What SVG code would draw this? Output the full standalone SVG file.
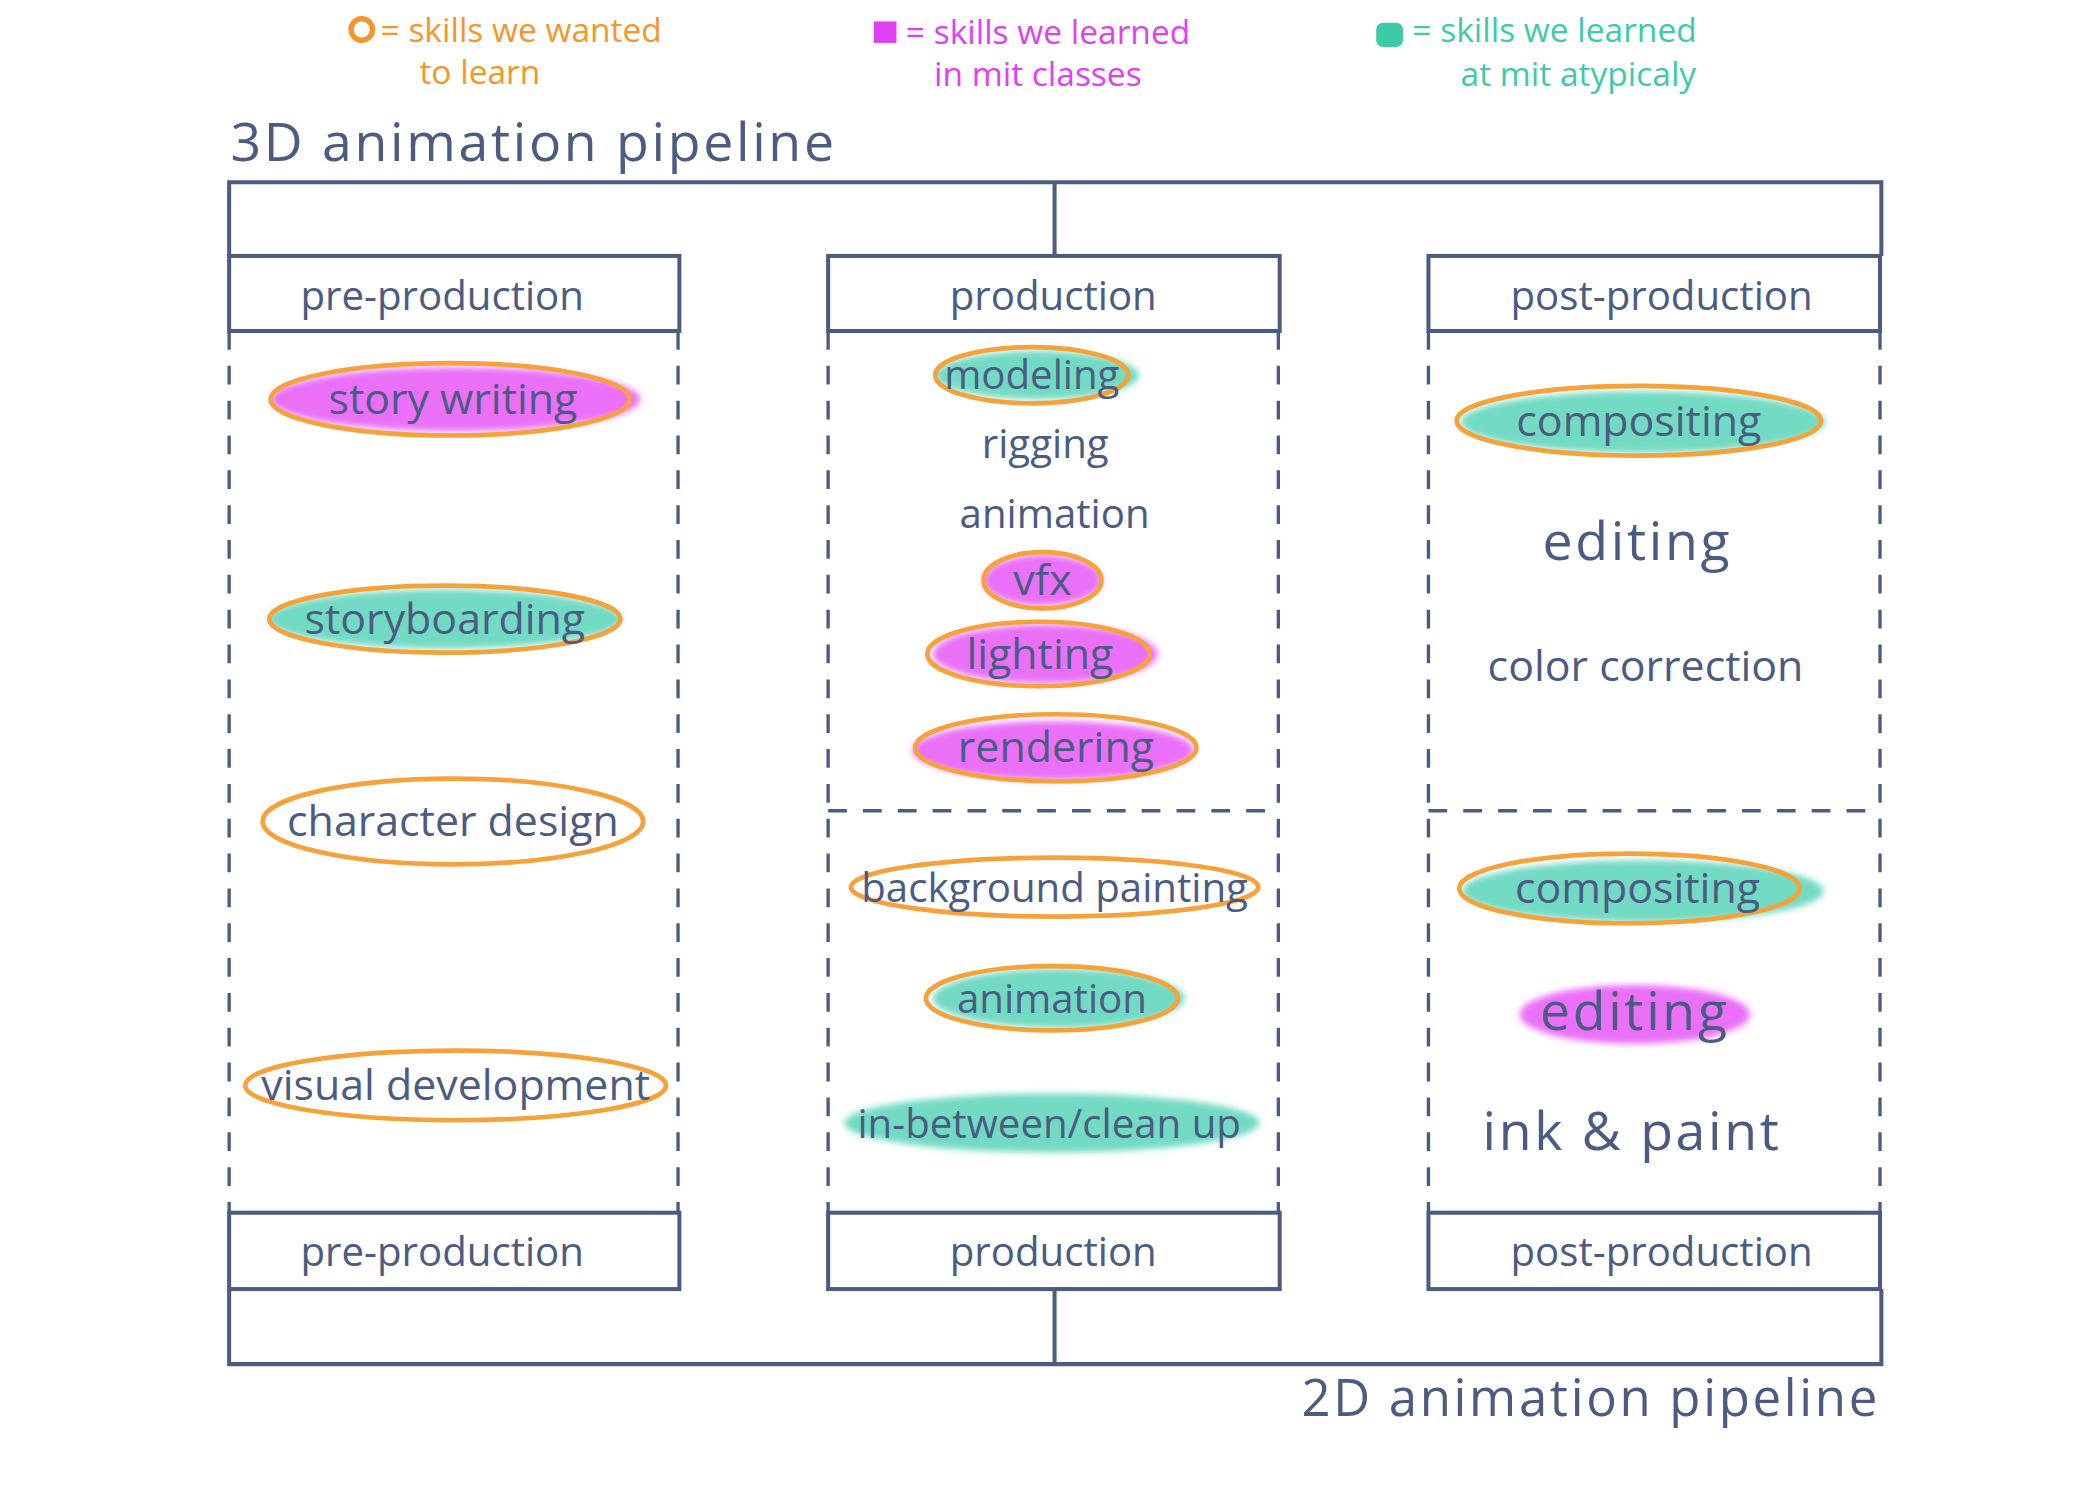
<svg xmlns="http://www.w3.org/2000/svg" width="2100" height="1500" viewBox="0 0 2100 1500">
<defs>
<filter id="fz" x="-20%" y="-40%" width="140%" height="180%"><feGaussianBlur stdDeviation="2.5"/></filter>
</defs>
<style>
.ln{stroke:#4b5b82;stroke-width:3;fill:none}
.box{stroke:#4b5b82;stroke-width:3;fill:#fff}
.ds{stroke:#4b5b82;stroke-width:2.5;fill:none;stroke-dasharray:14 12}
.t{font-family:"Open Sans","DejaVu Sans",sans-serif;fill:#4b5b82;text-anchor:middle}
.h{font-size:30px}
.s{font-size:32px}
.big{font-size:40px;letter-spacing:2px}
.o{fill:none;stroke:#f5a23a;stroke-width:3.5}
.m{fill:#ea6ff7;filter:url(#fz)}
.g{fill:#72d9c3;filter:url(#fz)}
.lo{font-family:"Open Sans","DejaVu Sans",sans-serif;font-size:25px;fill:#f5962a}
.lm{font-family:"Open Sans","DejaVu Sans",sans-serif;font-size:25px;fill:#e040f0}
.lg{font-family:"Open Sans","DejaVu Sans",sans-serif;font-size:25px;fill:#3ecaa8}
</style>
<g transform="scale(1.34,1.34)">
<g id="legend">
<circle cx="270" cy="22" r="8" fill="none" stroke="#f5962a" stroke-width="4"/>
<text class="lo" x="284" y="31">= skills we wanted</text>
<text class="lo" x="313" y="63">to learn</text>
<rect x="652" y="16" width="17" height="16" fill="#e040f0"/>
<text class="lm" x="676" y="33">= skills we learned</text>
<text class="lm" x="697" y="64">in mit classes</text>
<rect x="1027" y="17" width="20" height="18" rx="5" fill="#3ecaa8"/>
<text class="lg" x="1054" y="31">= skills we learned</text>
<text class="lg" x="1090" y="64">at mit atypicaly</text>
</g>
<text class="t" x="172" y="120" style="font-size:40px;text-anchor:start;letter-spacing:2px">3D animation pipeline</text>
<text class="t" x="1403" y="1057" style="font-size:38px;text-anchor:end;letter-spacing:2px">2D animation pipeline</text>
<g id="connectors">
<path class="ln" d="M171 191V136H1404V191M787 136V191"/>
<path class="ln" d="M171 962V1018H1404V962M787 962V1018"/>
<path class="ds" d="M171 247V905M506 247V905M618 247V905M954 247V905M1066 247V905M1403 247V905M618 605H954M1066 605H1403"/>
</g>
<g id="pre-top"><rect class="box" x="171" y="191" width="336" height="56"/><text class="t h" x="330" y="231">pre-production</text></g>
<g id="prod-top"><rect class="box" x="618" y="191" width="337" height="56"/><text class="t h" x="786" y="231">production</text></g>
<g id="post-top"><rect class="box" x="1066" y="191" width="337" height="56"/><text class="t h" x="1240" y="231">post-production</text></g>
<g id="pre-bot"><rect class="box" x="171" y="905" width="336" height="57"/><text class="t h" x="330" y="945">pre-production</text></g>
<g id="prod-bot"><rect class="box" x="618" y="905" width="337" height="57"/><text class="t h" x="786" y="945">production</text></g>
<g id="post-bot"><rect class="box" x="1066" y="905" width="337" height="57"/><text class="t h" x="1240" y="945">post-production</text></g>

<g id="story-writing"><ellipse class="m" cx="340" cy="298" rx="138" ry="24"/><ellipse class="o" cx="336" cy="298" rx="134" ry="27"/><text class="t s" x="338" y="309">story writing</text></g>
<g id="storyboarding"><ellipse class="g" cx="332" cy="462" rx="132" ry="22"/><ellipse class="o" cx="332" cy="462" rx="131" ry="25"/><text class="t s" x="332" y="473">storyboarding</text></g>
<g id="character-design"><ellipse class="o" cx="338" cy="613" rx="142" ry="32"/><text class="t s" x="338" y="624">character design</text></g>
<g id="visual-development"><ellipse class="o" cx="340" cy="810" rx="157" ry="26"/><text class="t s" x="340" y="821">visual development</text></g>

<g id="modeling"><ellipse class="g" cx="774" cy="280" rx="76" ry="18"/><ellipse class="o" cx="770" cy="280" rx="72" ry="21"/><text class="t h" x="770" y="290">modeling</text></g>
<g id="rigging"><text class="t h" x="780" y="342">rigging</text></g>
<g id="animation3d"><text class="t h" x="787" y="394">animation</text></g>
<g id="vfx"><ellipse class="m" cx="778" cy="433" rx="44" ry="19"/><ellipse class="o" cx="778" cy="433" rx="44" ry="21"/><text class="t s" x="778" y="444">vfx</text></g>
<g id="lighting"><ellipse class="m" cx="780" cy="488" rx="84" ry="22"/><ellipse class="o" cx="775" cy="488" rx="83" ry="24"/><text class="t s" x="776" y="499">lighting</text></g>
<g id="rendering"><ellipse class="m" cx="786" cy="560" rx="105" ry="22"/><ellipse class="o" cx="788" cy="558" rx="105" ry="25"/><text class="t s" x="788" y="569">rendering</text></g>

<g id="background-painting"><ellipse class="o" cx="787" cy="662" rx="152" ry="22"/><text class="t h" x="787" y="673">background painting</text></g>
<g id="animation2d"><ellipse class="g" cx="790" cy="745" rx="94" ry="22"/><ellipse class="o" cx="785" cy="745" rx="94" ry="24"/><text class="t h" x="785" y="756">animation</text></g>
<g id="in-between"><ellipse class="g" cx="785" cy="838" rx="155" ry="22"/><text class="t h" x="783" y="849">in-between/clean up</text></g>

<g id="compositing3d"><ellipse class="g" cx="1226" cy="315" rx="136" ry="23"/><ellipse class="o" cx="1223" cy="314" rx="136" ry="26"/><text class="t s" x="1223" y="325">compositing</text></g>
<g id="editing3d"><text class="t big" x="1222" y="418">editing</text></g>
<g id="color-correction"><text class="t s" x="1228" y="508">color correction</text></g>
<g id="compositing2d"><ellipse class="g" cx="1226" cy="665" rx="135" ry="23"/><ellipse class="o" cx="1216" cy="663" rx="127" ry="26"/><text class="t s" x="1222" y="674">compositing</text></g>
<g id="editing2d"><ellipse class="m" cx="1220" cy="757" rx="86" ry="22"/><text class="t big" x="1220" y="769">editing</text></g>
<g id="ink-paint"><text class="t big" x="1218" y="858">ink &amp; paint</text></g>
</g>
</svg>
